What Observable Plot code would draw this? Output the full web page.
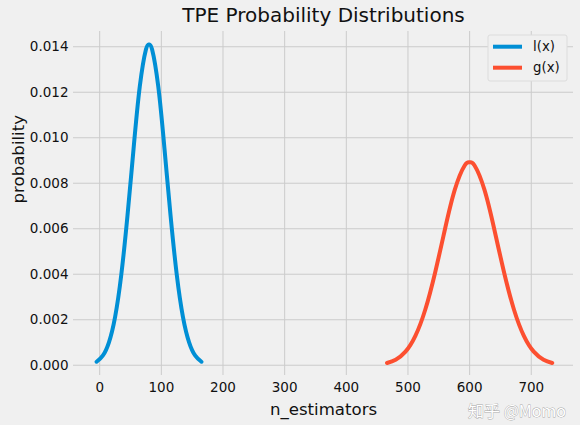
<!DOCTYPE html>
<html>
<head>
<meta charset="utf-8">
<script src="https://cdn.jsdelivr.net/npm/d3@7"></script>
<script src="https://cdn.jsdelivr.net/npm/@observablehq/plot@0.6"></script>
<style>
  body { margin: 0; background: #f0f0f0; }
  #chart { position: relative; width: 580px; height: 425px; }
  svg { font-family: "DejaVu Sans", sans-serif; }
</style>
</head>
<body>
<div id="chart"></div>
<script>
// l(x): good trials, g(x): the rest
const lX = [-5, 5, 15, 25, 35, 45, 55, 65, 75, 80, 85, 95, 105, 115, 125, 135, 145, 155, 165]
const lY = [0.000154, 0.00042, 0.00101, 0.00213, 0.00398, 0.00656, 0.00954, 0.01225, 0.01388, 0.01410,
            0.01388, 0.01225, 0.00954, 0.00656, 0.00398, 0.00213, 0.00101, 0.00042, 0.000154]
const gX = [466, 480, 496, 512, 528, 544, 560, 576, 592, 600, 608, 624, 640, 656, 672, 688, 704, 720, 734]
const gY = [0.000100, 0.000244, 0.000597, 0.00129, 0.00244, 0.00407, 0.00598, 0.00772, 0.00878, 0.00892,
            0.00878, 0.00772, 0.00598, 0.00407, 0.00244, 0.00129, 0.000597, 0.000244, 0.000100]
const xTicks = [0, 100, 200, 300, 400, 500, 600, 700]
const yTicks = [0, 0.002, 0.004, 0.006, 0.008, 0.010, 0.012, 0.014]
const series = ["l(x)", "g(x)"]
const colors = ["#008fd5", "#fc4f30"]

const lData = lX.map((x, i) => ({x, y: lY[i]}))
const gData = gX.map((x, i) => ({x, y: gY[i]}))

let chart = Plot.plot({
  width: 580,
  height: 425,
  marginLeft: 73,
  marginRight: 7,
  marginTop: 31,
  marginBottom: 50,
  style: {
    background: "#f0f0f0",
    fontFamily: "DejaVu Sans, sans-serif",
    color: "#111"
  },
  x: {domain: [-42.5, 768.5]},
  y: {domain: [-0.00045, 0.01467]},
  marks: [
    Plot.gridX(xTicks, {stroke: "#cbcbcb", strokeOpacity: 1, strokeWidth: 1}),
    Plot.gridY(yTicks, {stroke: "#cbcbcb", strokeOpacity: 1, strokeWidth: 1}),
    Plot.axisX(xTicks, {tickSize: 0, tickPadding: 7, fontSize: 13.5, fill: "#111", label: null, tickFormat: d3.format("d")}),
    Plot.axisY(yTicks, {tickSize: 0, tickPadding: 5, fontSize: 13.5, fill: "#111", label: null, tickFormat: d3.format(".3f")}),
    Plot.line(lData, {x: "x", y: "y", stroke: colors[0], strokeWidth: 4, curve: "natural"}),
    Plot.line(gData, {x: "x", y: "y", stroke: colors[1], strokeWidth: 4, curve: "natural"}),
    Plot.text(["TPE Probability Distributions"], {frameAnchor: "top", dy: -16, fontSize: 20, fill: "#111", lineAnchor: "middle"}),
    Plot.text(["n_estimators"], {frameAnchor: "bottom", dy: 34, fontSize: 16.6, fill: "#111", lineAnchor: "middle"}),
    Plot.text(["probability"], {frameAnchor: "left", dx: -55, rotate: -90, fontSize: 16.6, fill: "#111", lineAnchor: "middle"})
  ]
})

d3.select("#chart").append(() => chart)

// legend box, top right like matplotlib's "best"
const svg = d3.select("#chart svg")
const leg = svg.append("g").attr("transform", "translate(488,35)")
leg.append("rect")
  .attr("width", 79).attr("height", 46).attr("rx", 2)
  .attr("fill", "#f0f0f0").attr("stroke", "#dcdcdc").attr("stroke-width", 1)
series.forEach((s, i) => {
  leg.append("line")
    .attr("x1", 5).attr("x2", 34)
    .attr("y1", 11.7 + i * 21).attr("y2", 11.7 + i * 21)
    .attr("stroke", colors[i]).attr("stroke-width", 4)
  leg.append("text")
    .attr("x", 45).attr("y", 11.7 + i * 21).attr("dy", "0.35em")
    .attr("text-anchor", "start")
    .attr("font-size", 13.3).attr("fill", "#111")
    .text(s)
})

// watermark
svg.append("text")
  .attr("x", 566).attr("y", 411).attr("dy", "0.35em")
  .attr("text-anchor", "end")
  .attr("font-family", "'Noto Sans CJK SC', sans-serif")
  .attr("font-size", 16)
  .attr("fill", "#ffffff").attr("stroke", "#a8a8a8").attr("stroke-width", 0.8)
  .attr("paint-order", "stroke")
  .text("知乎 @Momo")
</script>
</body>
</html>
